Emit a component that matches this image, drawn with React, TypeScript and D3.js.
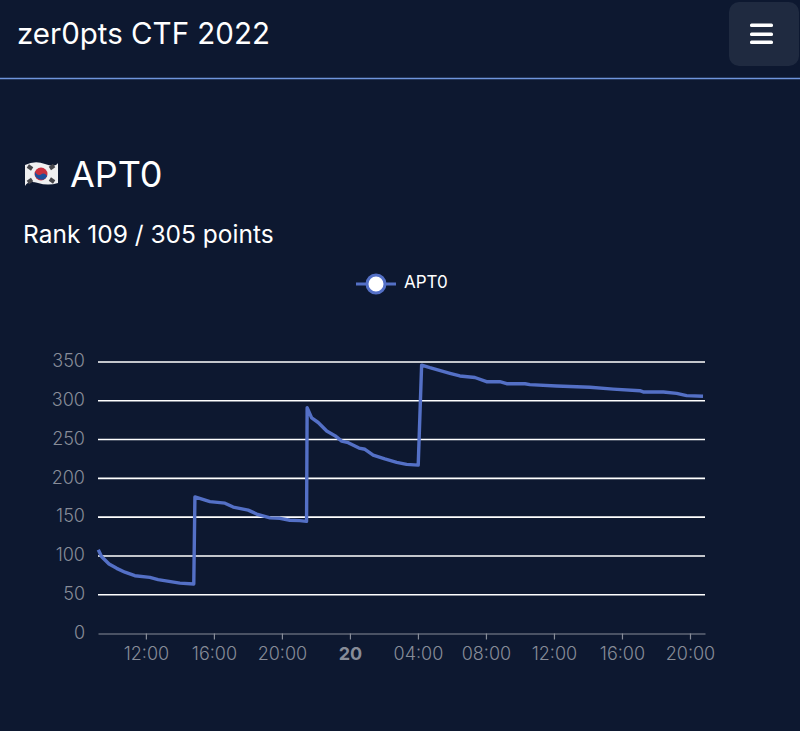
import { useRef, useEffect } from 'react'
import * as d3 from 'd3'

const times = [
  '03-19 09:12', '03-19 09:24', '03-19 09:50', '03-19 10:17', '03-19 10:46', '03-19 11:21', '03-19 12:14',
  '03-19 12:43', '03-19 14:00', '03-19 14:49', '03-19 14:53', '03-19 15:46', '03-19 16:39', '03-19 17:08',
  '03-19 18:01', '03-19 18:31', '03-19 19:18', '03-19 19:53', '03-19 20:28', '03-19 21:03', '03-19 21:27',
  '03-19 21:29', '03-19 21:45', '03-19 22:08', '03-19 22:38', '03-19 23:07', '03-19 23:31', '03-19 23:54',
  '03-20 00:32', '03-20 00:53', '03-20 01:22', '03-20 02:03', '03-20 02:45', '03-20 03:20', '03-20 04:01',
  '03-20 04:13', '03-20 04:42', '03-20 05:53', '03-20 06:28', '03-20 07:21', '03-20 08:02', '03-20 08:49',
  '03-20 09:13', '03-20 10:18', '03-20 10:35', '03-20 12:09', '03-20 14:07', '03-20 15:29', '03-20 17:03',
  '03-20 17:15', '03-20 18:26', '03-20 19:13', '03-20 19:48', '03-20 20:46',
]
const scores = [
  108, 99, 89.6, 84, 79, 74.5, 72.4,
  69.4, 65, 63.8, 176, 170, 168, 163,
  159, 154, 149, 148.5, 146, 145.5, 144.6,
  291, 278, 272, 261, 255, 248, 246,
  239, 237.5, 230, 225, 220.7, 218, 217,
  346, 342.7, 335.4, 332, 330, 324.6, 324.6,
  322, 322, 320.8, 319, 317.4, 315, 313,
  311.4, 311.4, 309.6, 306.6, 305.8,
]
const yTicks = [0, 50, 100, 150, 200, 250, 300, 350]
const xTicks = [
  '03-19 12:00', '03-19 16:00', '03-19 20:00', '03-20 00:00', '03-20 04:00',
  '03-20 08:00', '03-20 12:00', '03-20 16:00', '03-20 20:00',
]
const xStart = '03-19 09:11'
const xEnd = '03-20 20:53'

const teamName = 'APT0'
const title = 'zer0pts CTF 2022'
const subtitle = 'Rank 109 / 305 points'

const width = 800
const height = 731
const font = 'Inter, sans-serif'
const bg = '#0d1830'
const blue = '#5470c6'
const gray = '#878c98'

const parseTime = d3.timeParse('%m-%d %H:%M')

export default function App() {
  const ref = useRef<SVGGElement>(null)

  useEffect(() => {
    if (!ref.current) return
    const g = d3.select(ref.current)
    g.selectAll('*').remove()

    const x = d3
      .scaleTime()
      .domain([parseTime(xStart) as Date, parseTime(xEnd) as Date])
      .range([98, 705])
    const y = d3.scaleLinear().domain([0, 350]).range([633.5, 362])

    // horizontal grid
    g.selectAll('.grid')
      .data(yTicks.filter(d => d > 0))
      .enter()
      .append('line')
      .attr('x1', 98)
      .attr('x2', 705)
      .attr('y1', d => y(d))
      .attr('y2', d => y(d))
      .attr('stroke', '#ffffff')
      .attr('stroke-width', 1.6)

    const yAxis = g.append('g').attr('transform', 'translate(98,-1)').call(d3.axisLeft(y).tickValues(yTicks).tickSize(0).tickPadding(13))
    yAxis.select('.domain').remove()
    yAxis.selectAll('text').attr('fill', gray).attr('font-size', 18).attr('font-weight', 300).attr('font-family', font)

    const tickDates = xTicks.map(d => parseTime(d) as Date)
    const xAxis = g
      .append('g')
      .attr('transform', 'translate(0,633.5)')
      .call(
        d3
          .axisBottom(x)
          .tickValues(tickDates)
          .tickSize(6)
          .tickPadding(8)
          .tickSizeOuter(0)
          .tickFormat(d => {
            const t = d as Date
            return t.getHours() === 0 ? d3.timeFormat('%d')(t) : d3.timeFormat('%H:%M')(t)
          })
      )
    xAxis.select('.domain').attr('stroke', gray).attr('stroke-width', 1.2)
    xAxis.selectAll('line').attr('stroke', gray).attr('stroke-width', 1.2)
    xAxis
      .selectAll('text')
      .attr('fill', gray)
      .attr('font-size', 18)
      .attr('font-family', font)
      .attr('font-weight', (_, i) => (tickDates[i].getHours() === 0 ? 700 : 300))

    const line = d3
      .line<number>()
      .x((_, i) => x(parseTime(times[i]) as Date))
      .y(d => y(d))
    g.append('path')
      .attr('d', line(scores))
      .attr('fill', 'none')
      .attr('stroke', blue)
      .attr('stroke-width', 3.4)
      .attr('stroke-linejoin', 'round')
  }, [])

  return (
    <svg
      width={width}
      height={height}
      style={{ position: 'absolute', top: 0, left: 0, display: 'block' }}
      fontFamily={font}
    >
      <rect width={width} height={height} fill={bg} />

      {/* header */}
      <text x={17} y={44} fill="#fff" fontSize={29.5}>{title}</text>
      <rect x={729} y={2} width={70} height={64} rx={10} fill="#1f2a40" />
      {[25, 34, 42].map(b => (
        <rect key={b} x={750} y={b - 1.5} width={23} height={3.5} rx={1.5} fill="#fff" />
      ))}
      <line x1={0} x2={width} y1={78.5} y2={78.5} stroke="#6f95dc" strokeWidth={1.5} />

      {/* flag */}
      <g>
        <path d="M25 165 Q35 160 45 164 T58 163 L58 183 Q48 186 38 183 T25 186 Z" fill="#f0f0f1" />
        <circle cx={41} cy={174} r={6.5} fill="#c8303f" />
        <path d="M35 172 A6.5 6.5 0 0 0 47.2 176 Q44 172 41 174.5 Q38 177 35 172 Z" fill="#1c4f9c" />
        {[[30, 167.5, 35], [52, 167, -35], [30, 181, -35], [52, 180.5, 35]].map(([cx, cy, a]) => (
          <rect key={`${cx}-${cy}`} x={cx - 2.6} y={cy - 2} width={5.2} height={4} fill="#45454a" transform={`rotate(${a} ${cx} ${cy})`} />
        ))}
      </g>
      <text x={70} y={187} fill="#fff" fontSize={36}>{teamName}</text>
      <text x={23} y={243} fill="#fff" fontSize={24.5}>{subtitle}</text>

      {/* legend */}
      <line x1={356} x2={396} y1={284} y2={284} stroke={blue} strokeWidth={3} />
      <circle cx={376} cy={284} r={9} fill="#fff" stroke={blue} strokeWidth={3} />
      <text x={404} y={288} fill="#fff" fontSize={17}>{teamName}</text>

      <g ref={ref} />
    </svg>
  )
}
